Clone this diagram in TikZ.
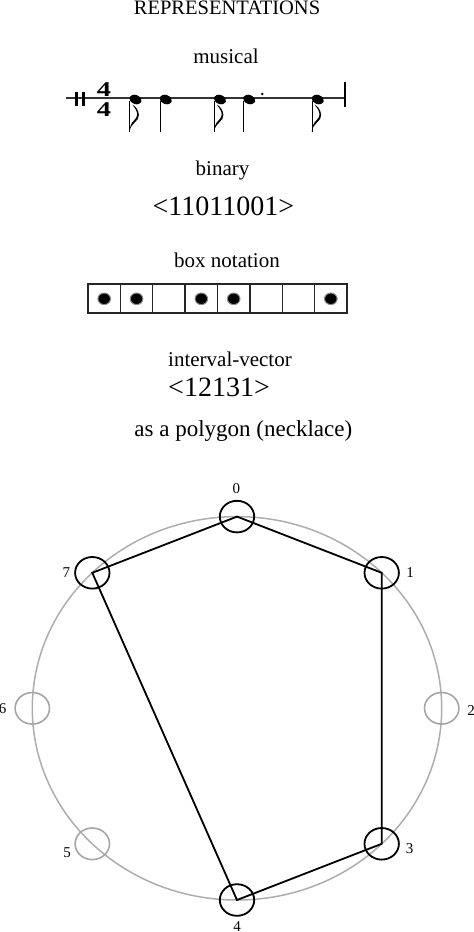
\documentclass[tikz,border=0pt]{standalone}
\usepackage{fontspec}
\setmainfont{Liberation Serif}
\begin{document}
\begin{tikzpicture}[x=1pt,y=-1pt,
  title/.style={anchor=base,inner sep=0pt,font=\fontsize{21}{21}\selectfont},
  big/.style={anchor=base,inner sep=0pt,font=\fontsize{28}{28}\selectfont},
  vlabel/.style={anchor=base,inner sep=0pt,font=\fontsize{15}{15}\selectfont},
  tsig/.style={anchor=center,inner sep=0pt,font=\fontsize{21}{21}\selectfont\bfseries},
  staff/.style={line width=1.2pt,black!80},
  stem/.style={line width=1pt,black},
  boxline/.style={line width=1.3pt,black!85},
  dotmark/.style={fill=black,draw=black!45,line width=1pt},
  ring/.style={line width=1.8pt,black},
  offring/.style={line width=1.6pt,black!35},
  edge/.style={line width=1.8pt,black,line join=miter},
]
\useasboundingbox (0,0) rectangle (474,932);

% titles
\node[title,font=\fontsize{20.5}{20.5}\selectfont] (t0) at (227,14) {REPRESENTATIONS};
\node[title] (t1) at (226,63.3) {musical};
\node[title] (t2) at (222.5,175) {binary};
\node[big]   (b1) at (223.3,215) {<11011001>};
\node[title] (t3) at (227,267.7) {box notation};
\node[title] (t4) at (230,366) {interval-vector};
\node[big]   (b2) at (219,396.7) {<12131>};
\node[title,font=\fontsize{23}{23}\selectfont] (t5) at (243.3,436.7) {as a polygon (necklace)};

% musical notation
\draw[staff] (66,98) -- (345,98);
\draw[line width=1.5pt] (345,82) -- (345,107);
\fill (75,91.7) rectangle (78.3,106);
\fill (81.7,91.7) rectangle (85,106);
\node[tsig] (ts1) at (104,89.7) {\scalebox{1.35}[1]{4}};
\node[tsig] (ts2) at (104,109.2) {\scalebox{1.35}[1]{4}};
\foreach \hx/\fl in {135.5/1,165.8/0,220/1,249.2/0,317.8/1}{
  \fill[shift={(\hx,99.5)},rotate=-22] (0,0) ellipse [x radius=6.4, y radius=4.5];
  \draw[stem] (\hx-5.6,100.5) -- (\hx-5.6,131.7);
  \ifnum\fl=1
    \fill (\hx-6.1,131.7) .. controls (\hx-4.1,121.7) and (\hx+3.9,121.7) .. (\hx+3.4,114.7)
       .. controls (\hx+2.9,110) and (\hx-0.1,106) .. (\hx-3.1,104.7)
       .. controls (\hx-0.6,108) and (\hx+1.7,111) .. (\hx+1.7,114.7)
       .. controls (\hx+1.7,119) and (\hx-4.1,121.5) .. (\hx-4.9,125.7) -- cycle;
  \fi
}
\fill (262.3,94) circle (1.4);

% box notation
\draw[boxline] (88,284) rectangle (347,313);
\foreach \i in {1,...,7}{
  \draw[boxline] (88+32.375*\i,284) -- (88+32.375*\i,313);
}
\foreach \i in {0,1,3,4,7}{
  \filldraw[dotmark] (104.2+32.375*\i,298.8) ellipse [x radius=6.3, y radius=5.8];
}

% necklace
\coordinate (c) at (237,708.3);
\draw[line width=1.5pt,black!32] (c) ellipse [x radius=204.7, y radius=191.7];
\coordinate (v0) at (237,516.6);
\coordinate (v1) at (381.7,572.8);
\coordinate (v2) at (441.7,708.3);
\coordinate (v3) at (381.7,843.8);
\coordinate (v4) at (237,900);
\coordinate (v5) at (92.3,843.8);
\coordinate (v6) at (32.3,708.3);
\coordinate (v7) at (92.3,572.8);
\draw[edge] (v0) -- (v1) -- (v3) -- (v4) -- (v7) -- cycle;
\foreach \v in {v0,v1,v3,v4,v7}{
  \draw[ring] (\v) ellipse [x radius=17.2, y radius=15.8];
}
\foreach \v in {v2,v5,v6}{
  \draw[offring] (\v) ellipse [x radius=17.2, y radius=15.8];
}
\node[vlabel] (l0) at (236.3,493) {0};
\node[vlabel] (l1) at (410,577) {1};
\node[vlabel] (l2) at (471,715) {2};
\node[vlabel] (l3) at (409.7,853) {3};
\node[vlabel] (l4) at (237,931.7) {4};
\node[vlabel] (l5) at (67,857) {5};
\node[vlabel] (l6) at (2.5,713) {6};
\node[vlabel] (l7) at (66.3,577) {7};
\end{tikzpicture}
\end{document}
